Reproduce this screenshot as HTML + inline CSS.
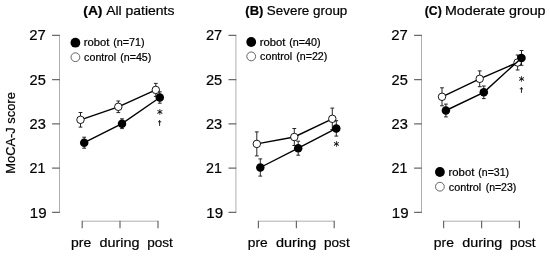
<!DOCTYPE html>
<html><head><meta charset="utf-8"><title>MoCA-J score</title>
<style>
html,body{margin:0;padding:0;background:#fff}
svg{display:block}
text{font-family:"Liberation Sans",sans-serif;fill:#000}
.t{stroke:#000;stroke-width:0.22;paint-order:stroke}
.ax{stroke:#999;stroke-width:0.8;fill:none}
.tk{stroke:#6a6a6a;stroke-width:1.2;fill:none}
.ln{stroke:#000;stroke-width:1.4;fill:none}
.eb{stroke:#1a1a1a;stroke-width:0.95;fill:none}
</style></head><body>
<svg width="550" height="257" viewBox="0 0 550 257">
<rect width="550" height="257" fill="#fff"/>
<path class="ax" d="M59.5 35.4V212.3M82.2 221.2H158.0"/>
<path class="tk" d="M52.1 35.4H59.9M52.1 79.6H59.9M52.1 123.9H59.9M52.1 168.1H59.9M52.1 212.3H59.9M82.2 220.8V228.2M120.0 220.8V228.2M158.0 220.8V228.2"/>
<path class="ax" d="M235.9 35.4V212.3M258.4 221.2H334.2"/>
<path class="tk" d="M228.5 35.4H236.3M228.5 79.6H236.3M228.5 123.9H236.3M228.5 168.1H236.3M228.5 212.3H236.3M258.4 220.8V228.2M296.4 220.8V228.2M334.2 220.8V228.2"/>
<path class="ax" d="M421.5 35.4V212.3M443.6 221.2H519.4"/>
<path class="tk" d="M414.1 35.4H421.9M414.1 79.6H421.9M414.1 123.9H421.9M414.1 168.1H421.9M414.1 212.3H421.9M443.6 220.8V228.2M481.6 220.8V228.2M519.4 220.8V228.2"/>
<path class="eb" d="M80.5 112.5V127.1M78.6 112.5h3.8M78.6 127.1h3.8M118.3 101.0V112.6M116.4 101.0h3.8M116.4 112.6h3.8M155.8 83.4V96.4M153.9 83.4h3.8M153.9 96.4h3.8"/>
<polyline class="ln" points="80.5,119.8 118.3,106.8 155.8,89.9"/>
<circle cx="80.5" cy="119.8" r="3.75" fill="#fff" stroke="#000" stroke-width="0.9"/>
<circle cx="118.3" cy="106.8" r="3.75" fill="#fff" stroke="#000" stroke-width="0.9"/>
<circle cx="155.8" cy="89.9" r="3.75" fill="#fff" stroke="#000" stroke-width="0.9"/>
<path class="eb" d="M84.2 137.2V148.2M82.3 137.2h3.8M82.3 148.2h3.8M122.0 118.8V128.6M120.1 118.8h3.8M120.1 128.6h3.8M159.8 91.8V103.2M157.9 91.8h3.8M157.9 103.2h3.8"/>
<polyline class="ln" points="84.2,142.7 122.0,123.7 159.8,97.5"/>
<circle cx="84.2" cy="142.7" r="4.25" fill="#000"/>
<circle cx="122.0" cy="123.7" r="4.25" fill="#000"/>
<circle cx="159.8" cy="97.5" r="4.25" fill="#000"/>
<text x="159.8" y="118.1" font-size="11.5" text-anchor="middle" stroke="#000" stroke-width="0.1" style="font-family:'DejaVu Sans',sans-serif">*</text>
<text x="159.6" y="124.6" font-size="6.6" text-anchor="middle" stroke="#000" stroke-width="0.3" style="font-family:'DejaVu Sans',sans-serif">†</text>
<path class="eb" d="M256.8 131.9V155.9M254.9 131.9h3.8M254.9 155.9h3.8M294.3 128.5V145.5M292.4 128.5h3.8M292.4 145.5h3.8M332.3 108.1V129.5M330.4 108.1h3.8M330.4 129.5h3.8"/>
<polyline class="ln" points="256.8,143.9 294.3,137.0 332.3,118.8"/>
<circle cx="256.8" cy="143.9" r="3.75" fill="#fff" stroke="#000" stroke-width="0.9"/>
<circle cx="294.3" cy="137.0" r="3.75" fill="#fff" stroke="#000" stroke-width="0.9"/>
<circle cx="332.3" cy="118.8" r="3.75" fill="#fff" stroke="#000" stroke-width="0.9"/>
<path class="eb" d="M260.3 158.9V176.1M258.4 158.9h3.8M258.4 176.1h3.8M298.2 141.2V155.2M296.3 141.2h3.8M296.3 155.2h3.8M336.3 120.7V136.1M334.4 120.7h3.8M334.4 136.1h3.8"/>
<polyline class="ln" points="260.3,167.5 298.2,148.2 336.3,128.4"/>
<circle cx="260.3" cy="167.5" r="4.25" fill="#000"/>
<circle cx="298.2" cy="148.2" r="4.25" fill="#000"/>
<circle cx="336.3" cy="128.4" r="4.25" fill="#000"/>
<text x="336.4" y="149.9" font-size="11.5" text-anchor="middle" stroke="#000" stroke-width="0.1" style="font-family:'DejaVu Sans',sans-serif">*</text>
<path class="eb" d="M442.0 87.8V105.8M440.1 87.8h3.8M440.1 105.8h3.8M479.7 70.9V86.7M477.8 70.9h3.8M477.8 86.7h3.8M517.6 55.0V70.0M515.7 55.0h3.8M515.7 70.0h3.8"/>
<polyline class="ln" points="442.0,96.8 479.7,78.8 517.6,62.5"/>
<circle cx="442.0" cy="96.8" r="3.75" fill="#fff" stroke="#000" stroke-width="0.9"/>
<circle cx="479.7" cy="78.8" r="3.75" fill="#fff" stroke="#000" stroke-width="0.9"/>
<circle cx="517.6" cy="62.5" r="3.75" fill="#fff" stroke="#000" stroke-width="0.9"/>
<path class="eb" d="M445.9 104.1V116.9M444.0 104.1h3.8M444.0 116.9h3.8M483.8 86.0V98.6M481.9 86.0h3.8M481.9 98.6h3.8M521.5 50.5V65.3M519.6 50.5h3.8M519.6 65.3h3.8"/>
<polyline class="ln" points="445.9,110.5 483.8,92.3 521.5,57.9"/>
<circle cx="445.9" cy="110.5" r="4.25" fill="#000"/>
<circle cx="483.8" cy="92.3" r="4.25" fill="#000"/>
<circle cx="521.5" cy="57.9" r="4.25" fill="#000"/>
<text x="521.6" y="84.7" font-size="11.5" text-anchor="middle" stroke="#000" stroke-width="0.1" style="font-family:'DejaVu Sans',sans-serif">*</text>
<text x="521.4" y="91.6" font-size="6.6" text-anchor="middle" stroke="#000" stroke-width="0.3" style="font-family:'DejaVu Sans',sans-serif">†</text>
<circle cx="75.4" cy="42.7" r="4.9" fill="#000"/>
<circle cx="75.4" cy="57.2" r="4.4" fill="#fff" stroke="#555" stroke-width="0.9"/>
<circle cx="251.2" cy="42.0" r="4.9" fill="#000"/>
<circle cx="251.2" cy="56.4" r="4.4" fill="#fff" stroke="#555" stroke-width="0.9"/>
<circle cx="439.9" cy="172.0" r="4.9" fill="#000"/>
<circle cx="439.9" cy="186.7" r="4.4" fill="#fff" stroke="#555" stroke-width="0.9"/>
<text class="t" id="tA1" x="83.31" y="14.80" font-size="13.6" font-weight="bold" textLength="19.18" lengthAdjust="spacingAndGlyphs">(A)</text>
<text class="t" id="tA2" x="106.15" y="14.80" font-size="13.6" font-weight="normal" textLength="68.35" lengthAdjust="spacingAndGlyphs">All patients</text>
<text class="t" id="tB1" x="245.31" y="14.80" font-size="13.6" font-weight="bold" textLength="18.06" lengthAdjust="spacingAndGlyphs">(B)</text>
<text class="t" id="tB2" x="266.84" y="14.80" font-size="13.6" font-weight="normal" textLength="80.51" lengthAdjust="spacingAndGlyphs">Severe group</text>
<text class="t" id="tC1" x="424.77" y="14.80" font-size="13.6" font-weight="bold" textLength="16.96" lengthAdjust="spacingAndGlyphs">(C)</text>
<text class="t" id="tC2" x="444.99" y="14.80" font-size="13.6" font-weight="normal" textLength="100.57" lengthAdjust="spacingAndGlyphs">Moderate group</text>
<text class="t" id="n0_27" x="29.34" y="40.40" font-size="14.6" font-weight="normal" textLength="16.53" lengthAdjust="spacingAndGlyphs">27</text>
<text class="t" id="n0_25" x="29.60" y="84.60" font-size="14.6" font-weight="normal" textLength="16.23" lengthAdjust="spacingAndGlyphs">25</text>
<text class="t" id="n0_23" x="29.60" y="128.90" font-size="14.6" font-weight="normal" textLength="16.23" lengthAdjust="spacingAndGlyphs">23</text>
<text class="t" id="n0_21" x="29.60" y="173.20" font-size="14.6" font-weight="normal" textLength="15.90" lengthAdjust="spacingAndGlyphs">21</text>
<text class="t" id="n0_19" x="29.75" y="217.70" font-size="14.6" font-weight="normal" textLength="16.80" lengthAdjust="spacingAndGlyphs">19</text>
<text class="t" id="n1_27" x="205.96" y="40.40" font-size="14.6" font-weight="normal" textLength="16.23" lengthAdjust="spacingAndGlyphs">27</text>
<text class="t" id="n1_25" x="205.96" y="84.60" font-size="14.6" font-weight="normal" textLength="16.21" lengthAdjust="spacingAndGlyphs">25</text>
<text class="t" id="n1_23" x="205.96" y="128.90" font-size="14.6" font-weight="normal" textLength="16.23" lengthAdjust="spacingAndGlyphs">23</text>
<text class="t" id="n1_21" x="205.96" y="173.20" font-size="14.6" font-weight="normal" textLength="15.88" lengthAdjust="spacingAndGlyphs">21</text>
<text class="t" id="n1_19" x="206.34" y="217.70" font-size="14.6" font-weight="normal" textLength="16.80" lengthAdjust="spacingAndGlyphs">19</text>
<text class="t" id="n2_27" x="391.34" y="40.40" font-size="14.6" font-weight="normal" textLength="16.53" lengthAdjust="spacingAndGlyphs">27</text>
<text class="t" id="n2_25" x="391.60" y="84.60" font-size="14.6" font-weight="normal" textLength="16.23" lengthAdjust="spacingAndGlyphs">25</text>
<text class="t" id="n2_23" x="391.60" y="128.90" font-size="14.6" font-weight="normal" textLength="16.23" lengthAdjust="spacingAndGlyphs">23</text>
<text class="t" id="n2_21" x="391.60" y="173.20" font-size="14.6" font-weight="normal" textLength="15.90" lengthAdjust="spacingAndGlyphs">21</text>
<text class="t" id="n2_19" x="391.75" y="217.70" font-size="14.6" font-weight="normal" textLength="16.80" lengthAdjust="spacingAndGlyphs">19</text>
<text class="t" id="xl0_0" x="71.05" y="246.70" font-size="13.7" font-weight="normal" textLength="20.14" lengthAdjust="spacingAndGlyphs">pre</text>
<text class="t" id="xl0_1" x="99.44" y="246.70" font-size="13.7" font-weight="normal" textLength="39.99" lengthAdjust="spacingAndGlyphs">during</text>
<text class="t" id="xl0_2" x="147.23" y="246.70" font-size="13.7" font-weight="normal" textLength="25.62" lengthAdjust="spacingAndGlyphs">post</text>
<text class="t" id="xl1_0" x="247.86" y="246.70" font-size="13.7" font-weight="normal" textLength="19.88" lengthAdjust="spacingAndGlyphs">pre</text>
<text class="t" id="xl1_1" x="275.98" y="246.70" font-size="13.7" font-weight="normal" textLength="40.25" lengthAdjust="spacingAndGlyphs">during</text>
<text class="t" id="xl1_2" x="324.03" y="246.70" font-size="13.7" font-weight="normal" textLength="25.63" lengthAdjust="spacingAndGlyphs">post</text>
<text class="t" id="xl2_0" x="433.80" y="246.70" font-size="13.7" font-weight="normal" textLength="20.14" lengthAdjust="spacingAndGlyphs">pre</text>
<text class="t" id="xl2_1" x="462.19" y="246.70" font-size="13.7" font-weight="normal" textLength="39.99" lengthAdjust="spacingAndGlyphs">during</text>
<text class="t" id="xl2_2" x="509.98" y="246.70" font-size="13.7" font-weight="normal" textLength="25.62" lengthAdjust="spacingAndGlyphs">post</text>
<text class="t" id="lA1a" x="83.88" y="46.40" font-size="10.6" font-weight="normal" textLength="25.62" lengthAdjust="spacingAndGlyphs">robot</text>
<text class="t" id="lA1b" x="113.18" y="46.40" font-size="10.6" font-weight="normal" textLength="31.49" lengthAdjust="spacingAndGlyphs">(n=71)</text>
<text class="t" id="lA2a" x="84.14" y="60.80" font-size="10.6" font-weight="normal" textLength="32.04" lengthAdjust="spacingAndGlyphs">control</text>
<text class="t" id="lA2b" x="120.18" y="60.80" font-size="10.6" font-weight="normal" textLength="31.14" lengthAdjust="spacingAndGlyphs">(n=45)</text>
<text class="t" id="lB1a" x="259.88" y="46.10" font-size="10.6" font-weight="normal" textLength="25.62" lengthAdjust="spacingAndGlyphs">robot</text>
<text class="t" id="lB1b" x="289.18" y="46.10" font-size="10.6" font-weight="normal" textLength="31.49" lengthAdjust="spacingAndGlyphs">(n=40)</text>
<text class="t" id="lB2a" x="260.14" y="60.40" font-size="10.6" font-weight="normal" textLength="32.04" lengthAdjust="spacingAndGlyphs">control</text>
<text class="t" id="lB2b" x="296.18" y="60.40" font-size="10.6" font-weight="normal" textLength="31.14" lengthAdjust="spacingAndGlyphs">(n=22)</text>
<text class="t" id="lC1a" x="448.54" y="176.10" font-size="10.6" font-weight="normal" textLength="25.81" lengthAdjust="spacingAndGlyphs">robot</text>
<text class="t" id="lC1b" x="478.28" y="176.10" font-size="10.6" font-weight="normal" textLength="30.73" lengthAdjust="spacingAndGlyphs">(n=31)</text>
<text class="t" id="lC2a" x="448.79" y="190.50" font-size="10.6" font-weight="normal" textLength="32.38" lengthAdjust="spacingAndGlyphs">control</text>
<text class="t" id="lC2b" x="485.63" y="190.50" font-size="10.6" font-weight="normal" textLength="30.69" lengthAdjust="spacingAndGlyphs">(n=23)</text>
<text class="t" id="yl" transform="translate(14.60 173.72) rotate(-90)" font-size="13.7" font-weight="normal" textLength="81.53" lengthAdjust="spacingAndGlyphs">MoCA-J score</text>
</svg>
</body></html>
